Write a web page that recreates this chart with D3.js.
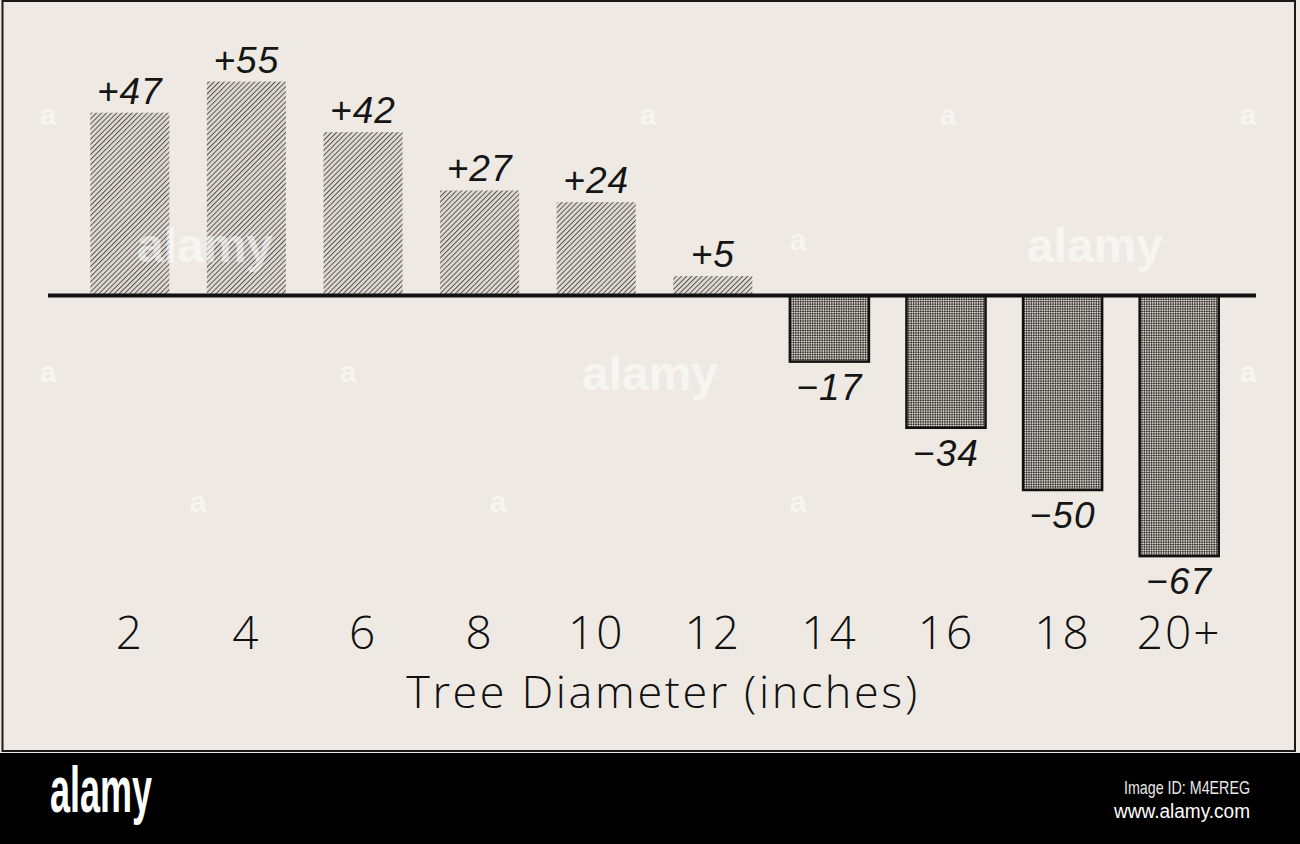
<!DOCTYPE html>
<html>
<head>
<meta charset="utf-8">
<script src="https://cdn.jsdelivr.net/npm/d3@7"></script>
<style>
  html, body { margin: 0; padding: 0; background: #000; }
  svg { display: block; }
</style>
</head>
<body>
<svg id="chart" width="1300" height="844"></svg>
<script>
// ---- data ----
const categories = ["2", "4", "6", "8", "10", "12", "14", "16", "18", "20+"];
const values = [47, 55, 42, 27, 24, 5, -17, -34, -50, -67];
const valueLabels = ["+47", "+55", "+42", "+27", "+24", "+5", "\u221217", "\u221234", "\u221250", "\u221267"];
const axisTitle = "Tree Diameter (inches)";

const svg = d3.select("#chart");
const W = 1300, H = 844;

// background
svg.append("rect").attr("x", 0).attr("y", 0).attr("width", W).attr("height", H).attr("fill", "#000");
svg.append("rect").attr("x", 0).attr("y", 0).attr("width", W).attr("height", 753).attr("fill", "#eeeae3");
svg.append("rect").attr("x", 2.5).attr("y", 1).attr("width", 1292.5).attr("height", 750)
  .attr("fill", "none").attr("stroke", "#1a1a1a").attr("stroke-width", 2);

// patterns
const defs = svg.append("defs");
const hatch = defs.append("pattern").attr("id", "hatch")
  .attr("patternUnits", "userSpaceOnUse").attr("width", 3.6).attr("height", 3.6)
  .attr("patternTransform", "rotate(45)");
hatch.append("rect").attr("width", 3.6).attr("height", 3.6).attr("fill", "#dcd7d0");
hatch.append("line").attr("x1", 0).attr("y1", 0).attr("x2", 0).attr("y2", 3.6)
  .attr("stroke", "#3f3d3b").attr("stroke-width", 1.6);

const dots = defs.append("pattern").attr("id", "dots")
  .attr("patternUnits", "userSpaceOnUse").attr("width", 3.4).attr("height", 3.4)
  .attr("patternTransform", "rotate(45)");
dots.append("rect").attr("width", 3.4).attr("height", 3.4).attr("fill", "#cdc8c1");
dots.append("rect").attr("x", 0).attr("y", 0).attr("width", 1.7).attr("height", 1.7).attr("fill", "#3c3a38");
dots.append("rect").attr("x", 1.7).attr("y", 1.7).attr("width", 1.7).attr("height", 1.7).attr("fill", "#3c3a38");

// scales
const x = d3.scaleBand().domain(categories).range([71.5, 1237.5]).paddingInner(0.322).paddingOuter(0.161);
const y = d3.scaleLinear().domain([-70, 60]).range([295.5 + 70 * 3.89, 295.5 - 60 * 3.89]);

const data = categories.map((c, i) => ({ c, v: values[i], label: valueLabels[i] }));

// bars
svg.selectAll("rect.bar").data(data).enter().append("rect")
  .attr("class", "bar")
  .attr("x", d => x(d.c))
  .attr("width", x.bandwidth())
  .attr("y", d => d.v >= 0 ? y(d.v) : y(0))
  .attr("height", d => Math.abs(y(d.v) - y(0)))
  .attr("fill", d => d.v >= 0 ? "url(#hatch)" : "url(#dots)")
  .attr("stroke", d => d.v >= 0 ? "none" : "#111")
  .attr("stroke-width", 2.5);

// baseline
svg.append("line").attr("x1", 48).attr("x2", 1256).attr("y1", y(0)).attr("y2", y(0))
  .attr("stroke", "#111").attr("stroke-width", 4);

// value labels
svg.selectAll("text.val").data(data).enter().append("text")
  .attr("class", "val")
  .attr("x", d => x(d.c) + x.bandwidth() / 2)
  .attr("y", d => d.v >= 0 ? y(d.v) - 9 : y(d.v) + 38)
  .attr("text-anchor", "middle")
  .attr("font-family", "'Liberation Sans', Arial, sans-serif")
  .attr("font-size", 37)
  .attr("font-style", "oblique 6deg")
  .attr("letter-spacing", 1)
  .attr("fill", "#151515")
  .text(d => d.label);

// x axis (tick labels)
const xAxis = d3.axisBottom(x).tickSize(0).tickPadding(0);
const gx = svg.append("g").attr("transform", "translate(0,605)").call(xAxis);
gx.select(".domain").remove();
gx.selectAll("text")
  .attr("font-family", "'Open Sans', 'DejaVu Sans', sans-serif")
  .attr("font-weight", 300)
  .attr("font-size", 46)
  .attr("letter-spacing", 2)
  .attr("fill", "#111")
  .attr("dy", "0.95em");

// axis title
svg.append("text").attr("x", 663).attr("y", 708).attr("text-anchor", "middle")
  .attr("font-family", "'Open Sans', 'DejaVu Sans', sans-serif")
  .attr("font-weight", 300).attr("font-size", 45).attr("fill", "#111")
  .attr("letter-spacing", 2.6)
  .text(axisTitle);

// faint watermarks (kept clear of the chart texts)
const wm = [
  { t: "alamy", x: 205, y: 262, s: 48 },
  { t: "alamy", x: 650, y: 390, s: 48 },
  { t: "alamy", x: 1095, y: 262, s: 48 },
  { t: "a", x: 48, y: 125, s: 30 }, { t: "a", x: 648, y: 125, s: 30 },
  { t: "a", x: 948, y: 125, s: 30 }, { t: "a", x: 1248, y: 125, s: 30 },
  { t: "a", x: 48, y: 382, s: 30 }, { t: "a", x: 348, y: 382, s: 30 },
  { t: "a", x: 1248, y: 382, s: 30 }, { t: "a", x: 798, y: 250, s: 30 },
  { t: "a", x: 198, y: 512, s: 30 }, { t: "a", x: 498, y: 512, s: 30 }, { t: "a", x: 798, y: 512, s: 30 }
];
svg.selectAll("text.wm").data(wm).enter().append("text")
  .attr("class", "wm")
  .attr("x", d => d.x).attr("y", d => d.y)
  .attr("text-anchor", "middle")
  .attr("font-family", "'Liberation Sans Narrow', 'Liberation Sans', sans-serif")
  .attr("font-weight", "bold")
  .attr("font-size", d => d.s)
  .attr("fill", "#ffffff").attr("fill-opacity", 0.55)
  .text(d => d.t);

// bottom band branding
svg.append("text").attr("x", 50).attr("y", 812)
  .attr("font-family", "'Liberation Sans Narrow', 'Liberation Sans', sans-serif")
  .attr("font-weight", "bold").attr("font-size", 64).attr("fill", "#fff")
  .attr("textLength", 102).attr("lengthAdjust", "spacingAndGlyphs")
  .text("alamy");
svg.append("text").attr("x", 1250).attr("y", 794).attr("text-anchor", "end")
  .attr("font-family", "'Liberation Sans Narrow', 'Liberation Sans', sans-serif")
  .attr("font-size", 19).attr("fill", "#e8e8e8")
  .attr("textLength", 126).attr("lengthAdjust", "spacingAndGlyphs")
  .text("Image ID: M4EREG");
svg.append("text").attr("x", 1250).attr("y", 818).attr("text-anchor", "end")
  .attr("font-family", "'Liberation Sans Narrow', 'Liberation Sans', sans-serif")
  .attr("font-size", 20).attr("fill", "#ffffff")
  .attr("textLength", 136).attr("lengthAdjust", "spacingAndGlyphs")
  .text("www.alamy.com");
</script>
</body>
</html>
